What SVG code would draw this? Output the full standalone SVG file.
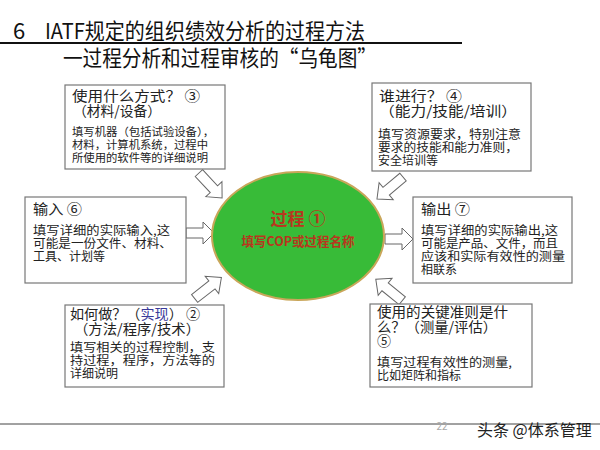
<svg xmlns="http://www.w3.org/2000/svg" width="600" height="450" viewBox="0 0 600 450">
<style>
text{font-family:"Noto Sans CJK SC","Liberation Sans",sans-serif;fill:#222}
.box{fill:#fff;stroke:#777;stroke-width:1.2}
.h{font-size:14px}
.s{font-size:12px}
.s3{font-size:11px}
.arr{fill:#fff;stroke:#666;stroke-width:1}
.title{font-size:22px;fill:#111}
.ct{fill:#b8361e;font-weight:bold}
</style>
<defs>
<path id="ad" d="M-17,-5 H5 V-11 L17,0 L5,11 V5 H-17 Z"/>
<path id="ah" d="M-14,-5 H3 V-11 L14,0 L3,11 V5 H-14 Z"/>
</defs>
<rect width="600" height="450" fill="#fff"/>
<g id="title">
<text class="title" x="13" y="39">6</text>
<text class="title" x="45" y="39" textLength="320" lengthAdjust="spacingAndGlyphs">IATF规定的组织绩效分析的过程方法</text>
<line x1="0" y1="43" x2="462" y2="43" stroke="#111" stroke-width="2"/>
<text class="title" x="63" y="66" font-size="21" textLength="314" lengthAdjust="spacingAndGlyphs">一过程分析和过程审核的“乌龟图”</text>
</g>
<g id="connectors">
<use href="#ad" class="arr" transform="translate(210.5,185.5) rotate(47)"/>
<use href="#ad" class="arr" transform="translate(390,188) rotate(140)"/>
<use href="#ad" class="arr" transform="translate(208,288) rotate(-38)"/>
<use href="#ad" class="arr" transform="translate(389,290) rotate(-141)"/>
<use href="#ah" class="arr" transform="translate(200,233)"/>
<use href="#ah" class="arr" transform="translate(399,239)"/>
</g>
<g id="process">
<ellipse cx="298" cy="236" rx="86" ry="64" fill="#38bb38" stroke="#c9a65a" stroke-width="2"/>
<text class="ct" x="298" y="225" font-size="17" text-anchor="middle">过程 ①</text>
<text class="ct" x="298" y="246" font-size="13" text-anchor="middle" textLength="113" lengthAdjust="spacingAndGlyphs">填写COP或过程名称</text>
</g>
<g id="box3">
<rect class="box" x="65" y="85" width="160" height="84"/>
<text class="h" x="72" y="101" textLength="128" lengthAdjust="spacingAndGlyphs">使用什么方式？ ③</text>
<text class="h" x="73" y="116" textLength="88" lengthAdjust="spacingAndGlyphs">（材料/设备）</text>
<text class="s3" x="72" y="136" textLength="142" lengthAdjust="spacingAndGlyphs">填写机器（包括试验设备），</text>
<text class="s3" x="72" y="149" textLength="136" lengthAdjust="spacingAndGlyphs">材料，计算机系统，过程中</text>
<text class="s3" x="72" y="162" textLength="136" lengthAdjust="spacingAndGlyphs">所使用的软件等的详细说明</text>
</g>
<g id="box4">
<rect class="box" x="372" y="83" width="159" height="88"/>
<text class="h" x="379" y="101" textLength="83" lengthAdjust="spacingAndGlyphs">谁进行？ ④</text>
<text class="h" x="379" y="116" textLength="138" lengthAdjust="spacingAndGlyphs">（能力/技能/培训）</text>
<text class="s" x="378" y="139" textLength="143" lengthAdjust="spacingAndGlyphs">填写资源要求，特别注意</text>
<text class="s" x="378" y="152" textLength="140" lengthAdjust="spacingAndGlyphs">要求的技能和能力准则，</text>
<text class="s" x="378" y="165">安全培训等</text>
</g>
<g id="box6">
<rect class="box" x="25" y="197" width="161" height="86"/>
<text class="h" x="33" y="214" textLength="49" lengthAdjust="spacingAndGlyphs">输入 ⑥</text>
<text class="s" x="33" y="235" textLength="137" lengthAdjust="spacingAndGlyphs">填写详细的实际输入,这</text>
<text class="s" x="33" y="248" textLength="139" lengthAdjust="spacingAndGlyphs">可能是一份文件、材料、</text>
<text class="s" x="33" y="261">工具、计划等</text>
</g>
<g id="box7">
<rect class="box" x="413" y="197" width="159" height="86"/>
<text class="h" x="421" y="214" textLength="49" lengthAdjust="spacingAndGlyphs">输出 ⑦</text>
<text class="s" x="421" y="235" textLength="137" lengthAdjust="spacingAndGlyphs">填写详细的实际输出,这</text>
<text class="s" x="421" y="248" textLength="137" lengthAdjust="spacingAndGlyphs">可能是产品、文件，而且</text>
<text class="s" x="421" y="261" textLength="144" lengthAdjust="spacingAndGlyphs">应该和实际有效性的测量</text>
<text class="s" x="421" y="274">相联系</text>
</g>
<g id="box2">
<rect class="box" x="65" y="305" width="159" height="82"/>
<text class="h" x="70" y="319" textLength="130" lengthAdjust="spacingAndGlyphs">如何做？（<tspan fill="#3a3a9a">实现</tspan>） ②</text>
<text class="h" x="74" y="334" textLength="126" lengthAdjust="spacingAndGlyphs">（方法/程序/技术）</text>
<text class="s" x="70" y="352" textLength="145" lengthAdjust="spacingAndGlyphs">填写相关的过程控制，支</text>
<text class="s" x="70" y="365" textLength="145" lengthAdjust="spacingAndGlyphs">持过程，程序，方法等的</text>
<text class="s" x="70" y="378">详细说明</text>
</g>
<g id="box5">
<rect class="box" x="370" y="304" width="162" height="83"/>
<text class="h" x="377" y="317" textLength="131" lengthAdjust="spacingAndGlyphs">使用的关键准则是什</text>
<text class="h" x="377" y="331.5" textLength="120" lengthAdjust="spacingAndGlyphs">么？（测量/评估）</text>
<text class="h" x="377" y="346">⑤</text>
<text class="s" x="377" y="367" textLength="135" lengthAdjust="spacingAndGlyphs">填写过程有效性的测量,</text>
<text class="s" x="377" y="380">比如矩阵和指标</text>
</g>
<g id="footer">
<line x1="0" y1="424" x2="600" y2="424" stroke="#444" stroke-width="1"/>
<text x="442" y="430" font-size="10" text-anchor="middle" style="fill:#aaa">22</text>
<text x="477" y="436" font-size="16" style="fill:#222">头条 @体系管理</text>
</g>
</svg>
